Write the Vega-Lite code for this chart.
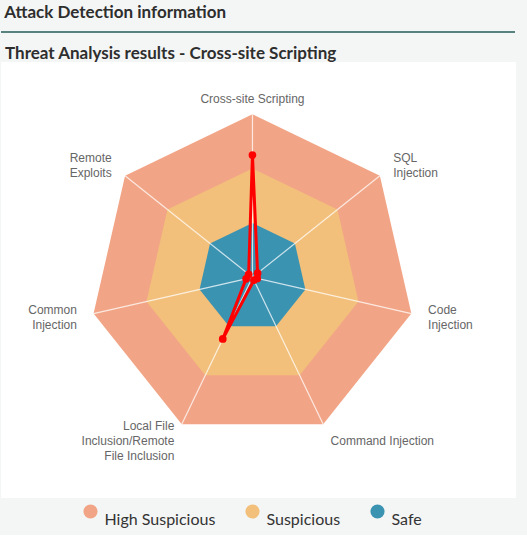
{
  "$schema": "https://vega.github.io/schema/vega-lite/v6.json",
  "background": "#f4f6f5",
  "padding": {"left": 0, "top": 4, "right": 12, "bottom": 7},
  "autosize": {"type": "pad"},
  "config": {"view": {"stroke": null}, "font": "Lato"},
  "spacing": 12,
  "datasets": {
    "bands": [
      {"band": "High Suspicious", "axis": "Cross-site Scripting", "idx": 0, "value": 100},
      {"band": "High Suspicious", "axis": "SQL Injection", "idx": 1, "value": 100},
      {"band": "High Suspicious", "axis": "Code Injection", "idx": 2, "value": 100},
      {"band": "High Suspicious", "axis": "Command Injection", "idx": 3, "value": 100},
      {"band": "High Suspicious", "axis": "Local File Inclusion/Remote File Inclusion", "idx": 4, "value": 100},
      {"band": "High Suspicious", "axis": "Common Injection", "idx": 5, "value": 100},
      {"band": "High Suspicious", "axis": "Remote Exploits", "idx": 6, "value": 100},
      {"band": "Suspicious", "axis": "Cross-site Scripting", "idx": 0, "value": 66.7},
      {"band": "Suspicious", "axis": "SQL Injection", "idx": 1, "value": 66.7},
      {"band": "Suspicious", "axis": "Code Injection", "idx": 2, "value": 66.7},
      {"band": "Suspicious", "axis": "Command Injection", "idx": 3, "value": 66.7},
      {"band": "Suspicious", "axis": "Local File Inclusion/Remote File Inclusion", "idx": 4, "value": 66.7},
      {"band": "Suspicious", "axis": "Common Injection", "idx": 5, "value": 66.7},
      {"band": "Suspicious", "axis": "Remote Exploits", "idx": 6, "value": 66.7},
      {"band": "Safe", "axis": "Cross-site Scripting", "idx": 0, "value": 33.3},
      {"band": "Safe", "axis": "SQL Injection", "idx": 1, "value": 33.3},
      {"band": "Safe", "axis": "Code Injection", "idx": 2, "value": 33.3},
      {"band": "Safe", "axis": "Command Injection", "idx": 3, "value": 33.3},
      {"band": "Safe", "axis": "Local File Inclusion/Remote File Inclusion", "idx": 4, "value": 33.3},
      {"band": "Safe", "axis": "Common Injection", "idx": 5, "value": 33.3},
      {"band": "Safe", "axis": "Remote Exploits", "idx": 6, "value": 33.3}
    ],
    "threat": [
      {"axis": "Cross-site Scripting", "label": "Cross-site Scripting", "idx": 0, "value": 75},
      {"axis": "SQL Injection", "label": "SQL\nInjection", "idx": 1, "value": 4},
      {"axis": "Code Injection", "label": "Code\nInjection", "idx": 2, "value": 3},
      {"axis": "Command Injection", "label": "Command Injection", "idx": 3, "value": 2},
      {"axis": "Local File Inclusion/Remote File Inclusion", "label": "Local File\nInclusion/Remote\nFile Inclusion", "idx": 4, "value": 42},
      {"axis": "Common Injection", "label": "Common\nInjection", "idx": 5, "value": 4},
      {"axis": "Remote Exploits", "label": "Remote\nExploits", "idx": 6, "value": 3}
    ]
  },
  "vconcat": [
    {
      "width": 514,
      "height": 1,
      "title": {"text": "Attack Detection information", "anchor": "start", "dx": 4, "font": "Lato", "fontSize": 17, "fontWeight": "bold", "color": "#2e2e2e", "offset": 9},
      "data": {"values": [{"v": 0}]},
      "mark": {"type": "rule", "stroke": "#235b57", "strokeWidth": 1.5},
      "encoding": {"y": {"field": "v", "type": "quantitative", "scale": {"domain": [0, 1]}, "axis": null}}
    },
    {
      "width": 515,
      "height": 436,
      "view": {"fill": "white", "stroke": null},
      "title": {"text": "Threat Analysis results - Cross-site Scripting", "anchor": "start", "dx": 4, "font": "Lato", "fontSize": 17, "fontWeight": "bold", "color": "#2e2e2e", "offset": -1},
      "layer": [
        {
          "data": {"name": "bands"},
          "transform": [
            {"calculate": "datum.idx * 2 * PI / 7", "as": "a"},
            {"calculate": "datum.value * sin(datum.a)", "as": "px"},
            {"calculate": "datum.value * cos(datum.a)", "as": "py"}
          ],
          "encoding": {
            "x": {"field": "px", "type": "quantitative", "scale": {"domain": [-154.3, 161.7], "nice": false, "zero": false}, "axis": null},
            "y": {"field": "py", "type": "quantitative", "scale": {"domain": [-135.4, 132.1], "nice": false, "zero": false}, "axis": null}
          },
          "layer": [
            {
              "transform": [{"filter": "datum.band === 'High Suspicious'"}],
              "mark": {"type": "line", "interpolate": "linear-closed", "filled": true, "strokeWidth": 0},
              "encoding": {
                "order": {"field": "idx", "type": "quantitative"},
                "color": {"field": "band", "type": "nominal", "scale": {"domain": ["High Suspicious", "Suspicious", "Safe"], "range": ["#f2a586", "#f2c07b", "#3b93b2"]},
                  "legend": {"title": null, "orient": "none", "legendX": 81.5, "legendY": 472.5, "direction": "horizontal", "symbolType": "circle", "symbolSize": 200, "symbolStrokeWidth": 0, "labelFont": "Lato", "labelFontSize": 16, "labelColor": "#333333", "labelBaseline": "top", "labelOffset": 6, "columnPadding": 29, "padding": 0}}
              }
            },
            {
              "transform": [{"filter": "datum.band === 'Suspicious'"}],
              "mark": {"type": "line", "interpolate": "linear-closed", "filled": true, "strokeWidth": 0},
              "encoding": {
                "order": {"field": "idx", "type": "quantitative"},
                "color": {"field": "band", "type": "nominal"}
              }
            },
            {
              "transform": [{"filter": "datum.band === 'Safe'"}],
              "mark": {"type": "line", "interpolate": "linear-closed", "filled": true, "strokeWidth": 0},
              "encoding": {
                "order": {"field": "idx", "type": "quantitative"},
                "color": {"field": "band", "type": "nominal"}
              }
            },
            {
              "transform": [{"filter": "datum.band === 'High Suspicious'"}],
              "mark": {"type": "rule", "stroke": "#ffffff", "strokeOpacity": 0.75, "strokeWidth": 1.2},
              "encoding": {"x2": {"datum": 0}, "y2": {"datum": 0}}
            }
          ]
        },
        {
          "data": {"name": "threat"},
          "transform": [
            {"calculate": "datum.idx * 2 * PI / 7", "as": "a"},
            {"calculate": "datum.value * sin(datum.a)", "as": "px"},
            {"calculate": "datum.value * cos(datum.a)", "as": "py"},
            {"calculate": "110.5 * sin(datum.a)", "as": "lx"},
            {"calculate": "110.5 * cos(datum.a)", "as": "ly"}
          ],
          "encoding": {
            "x": {"field": "px", "type": "quantitative"},
            "y": {"field": "py", "type": "quantitative"}
          },
          "layer": [
            {
              "mark": {"type": "line", "interpolate": "linear-closed", "stroke": "#ff0000", "strokeWidth": 3},
              "encoding": {"order": {"field": "idx", "type": "quantitative"}}
            },
            {
              "mark": {"type": "point", "filled": true, "fill": "#ff0000", "size": 60, "opacity": 1}
            },
            {
              "transform": [{"filter": "datum.idx === 0"}],
              "mark": {"type": "text", "align": "center", "baseline": "middle", "font": "Liberation Sans", "fontSize": 12, "fill": "#666666", "lineBreak": "\n", "lineHeight": 15, "dy": 2},
              "encoding": {"x": {"field": "lx", "type": "quantitative"}, "y": {"field": "ly", "type": "quantitative"}, "text": {"field": "label"}}
            },
            {
              "transform": [{"filter": "datum.idx === 1 || datum.idx === 2"}],
              "mark": {"type": "text", "align": "left", "baseline": "middle", "font": "Liberation Sans", "fontSize": 12, "fill": "#666666", "lineBreak": "\n", "lineHeight": 15, "dy": -7},
              "encoding": {"x": {"field": "lx", "type": "quantitative"}, "y": {"field": "ly", "type": "quantitative"}, "text": {"field": "label"}}
            },
            {
              "transform": [{"filter": "datum.idx === 3"}],
              "mark": {"type": "text", "align": "left", "baseline": "middle", "font": "Liberation Sans", "fontSize": 12, "fill": "#666666", "lineBreak": "\n", "lineHeight": 15, "dy": 1},
              "encoding": {"x": {"field": "lx", "type": "quantitative"}, "y": {"field": "ly", "type": "quantitative"}, "text": {"field": "label"}}
            },
            {
              "transform": [{"filter": "datum.idx === 4"}],
              "mark": {"type": "text", "align": "right", "baseline": "middle", "font": "Liberation Sans", "fontSize": 12, "fill": "#666666", "lineBreak": "\n", "lineHeight": 15, "dy": -14},
              "encoding": {"x": {"field": "lx", "type": "quantitative"}, "y": {"field": "ly", "type": "quantitative"}, "text": {"field": "label"}}
            },
            {
              "transform": [{"filter": "datum.idx >= 5"}],
              "mark": {"type": "text", "align": "right", "baseline": "middle", "font": "Liberation Sans", "fontSize": 12, "fill": "#666666", "lineBreak": "\n", "lineHeight": 15, "dy": -7},
              "encoding": {"x": {"field": "lx", "type": "quantitative"}, "y": {"field": "ly", "type": "quantitative"}, "text": {"field": "label"}}
            }
          ]
        }
      ]
    }
  ]
}
